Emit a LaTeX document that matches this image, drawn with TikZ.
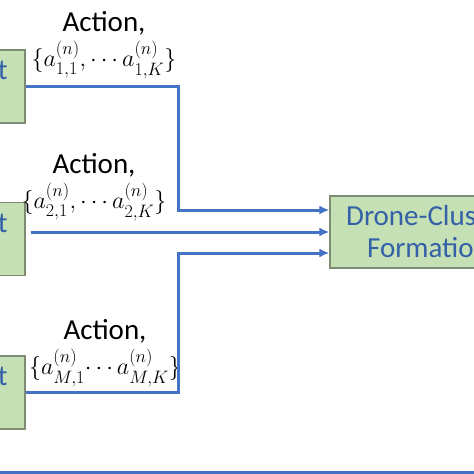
\RequirePackage{fix-cm}
\documentclass[tikz,border=0pt]{standalone}
\usepackage{fontspec}
\setmainfont{Carlito}
\usepackage{amsmath}
\usepackage{xcolor}
\usetikzlibrary{arrows,arrows.meta,positioning}
\DeclareMathSizes{24}{24}{18}{14}
\definecolor{boxfill}{RGB}{197,224,180}
\definecolor{boxline}{RGB}{125,140,115}
\definecolor{boxtext}{RGB}{52,96,168}
\definecolor{flowblue}{RGB}{68,114,196}
\newcommand{\actset}[1]{{\fontsize{24}{30}\selectfont$#1$}}

\begin{document}
\begin{tikzpicture}[x=1pt,y=-1pt,>={Latex[length=10pt,width=9pt]},line width=3pt]
  \tikzstyle{every node}=[font=\fontsize{29}{32}\selectfont]
  \tikzstyle{block}=[draw=boxline,line width=1.2pt,fill=boxfill,text=boxtext,align=center,inner sep=0pt]
  \tikzstyle{agent}=[block,minimum width=104pt,minimum height=73pt]
  \tikzstyle{flow}=[draw=flowblue,line width=3pt]
  \tikzstyle{act}=[align=center,inner sep=0pt,anchor=south]

  \useasboundingbox (0,0) rectangle (474,474);

  \node[agent] (A1) at (-27,86.5)  {Agent\\\mbox{}};
  \node[agent] (A2) at (-27,239)   {Agent\\\mbox{}};
  \node[agent] (AM) at (-27,392.5) {Agent\\\mbox{}};
  \node[block,minimum width=196pt,minimum height=72pt] (D) at (428,232) {Drone-Cluster\\Formation};

  \node[act] (L1) at (104,80)  {Action,\\[3pt]\actset{\{a^{(n)}_{1,1},{\cdots}\,a^{(n)}_{1,K}\}}};
  \node[act] (L2) at (94,222)  {Action,\\[3pt]\actset{\{a^{(n)}_{2,1},{\cdots}\,a^{(n)}_{2,K}\}}};
  \node[act] (LM) at (105,388) {Action,\\[3pt]\actset{\{a^{(n)}_{M,1}{\cdots}\,a^{(n)}_{M,K}\}}};

  \draw[flow,->] (A1.east) -- (178,86.5) |- ([yshift=22pt]D.west);
  \draw[flow,->,shorten <=5pt] ([yshift=7pt]A2.east) -- (D.west);
  \draw[flow,->] (AM.east) -- (178,392.5) |- ([yshift=-21pt]D.west);

  % line along the lower edge
  \coordinate (bl) at (-10,472.5);
  \coordinate (br) at (484,472.5);
  \draw[flow] (bl) -- (br);
\end{tikzpicture}
\end{document}
